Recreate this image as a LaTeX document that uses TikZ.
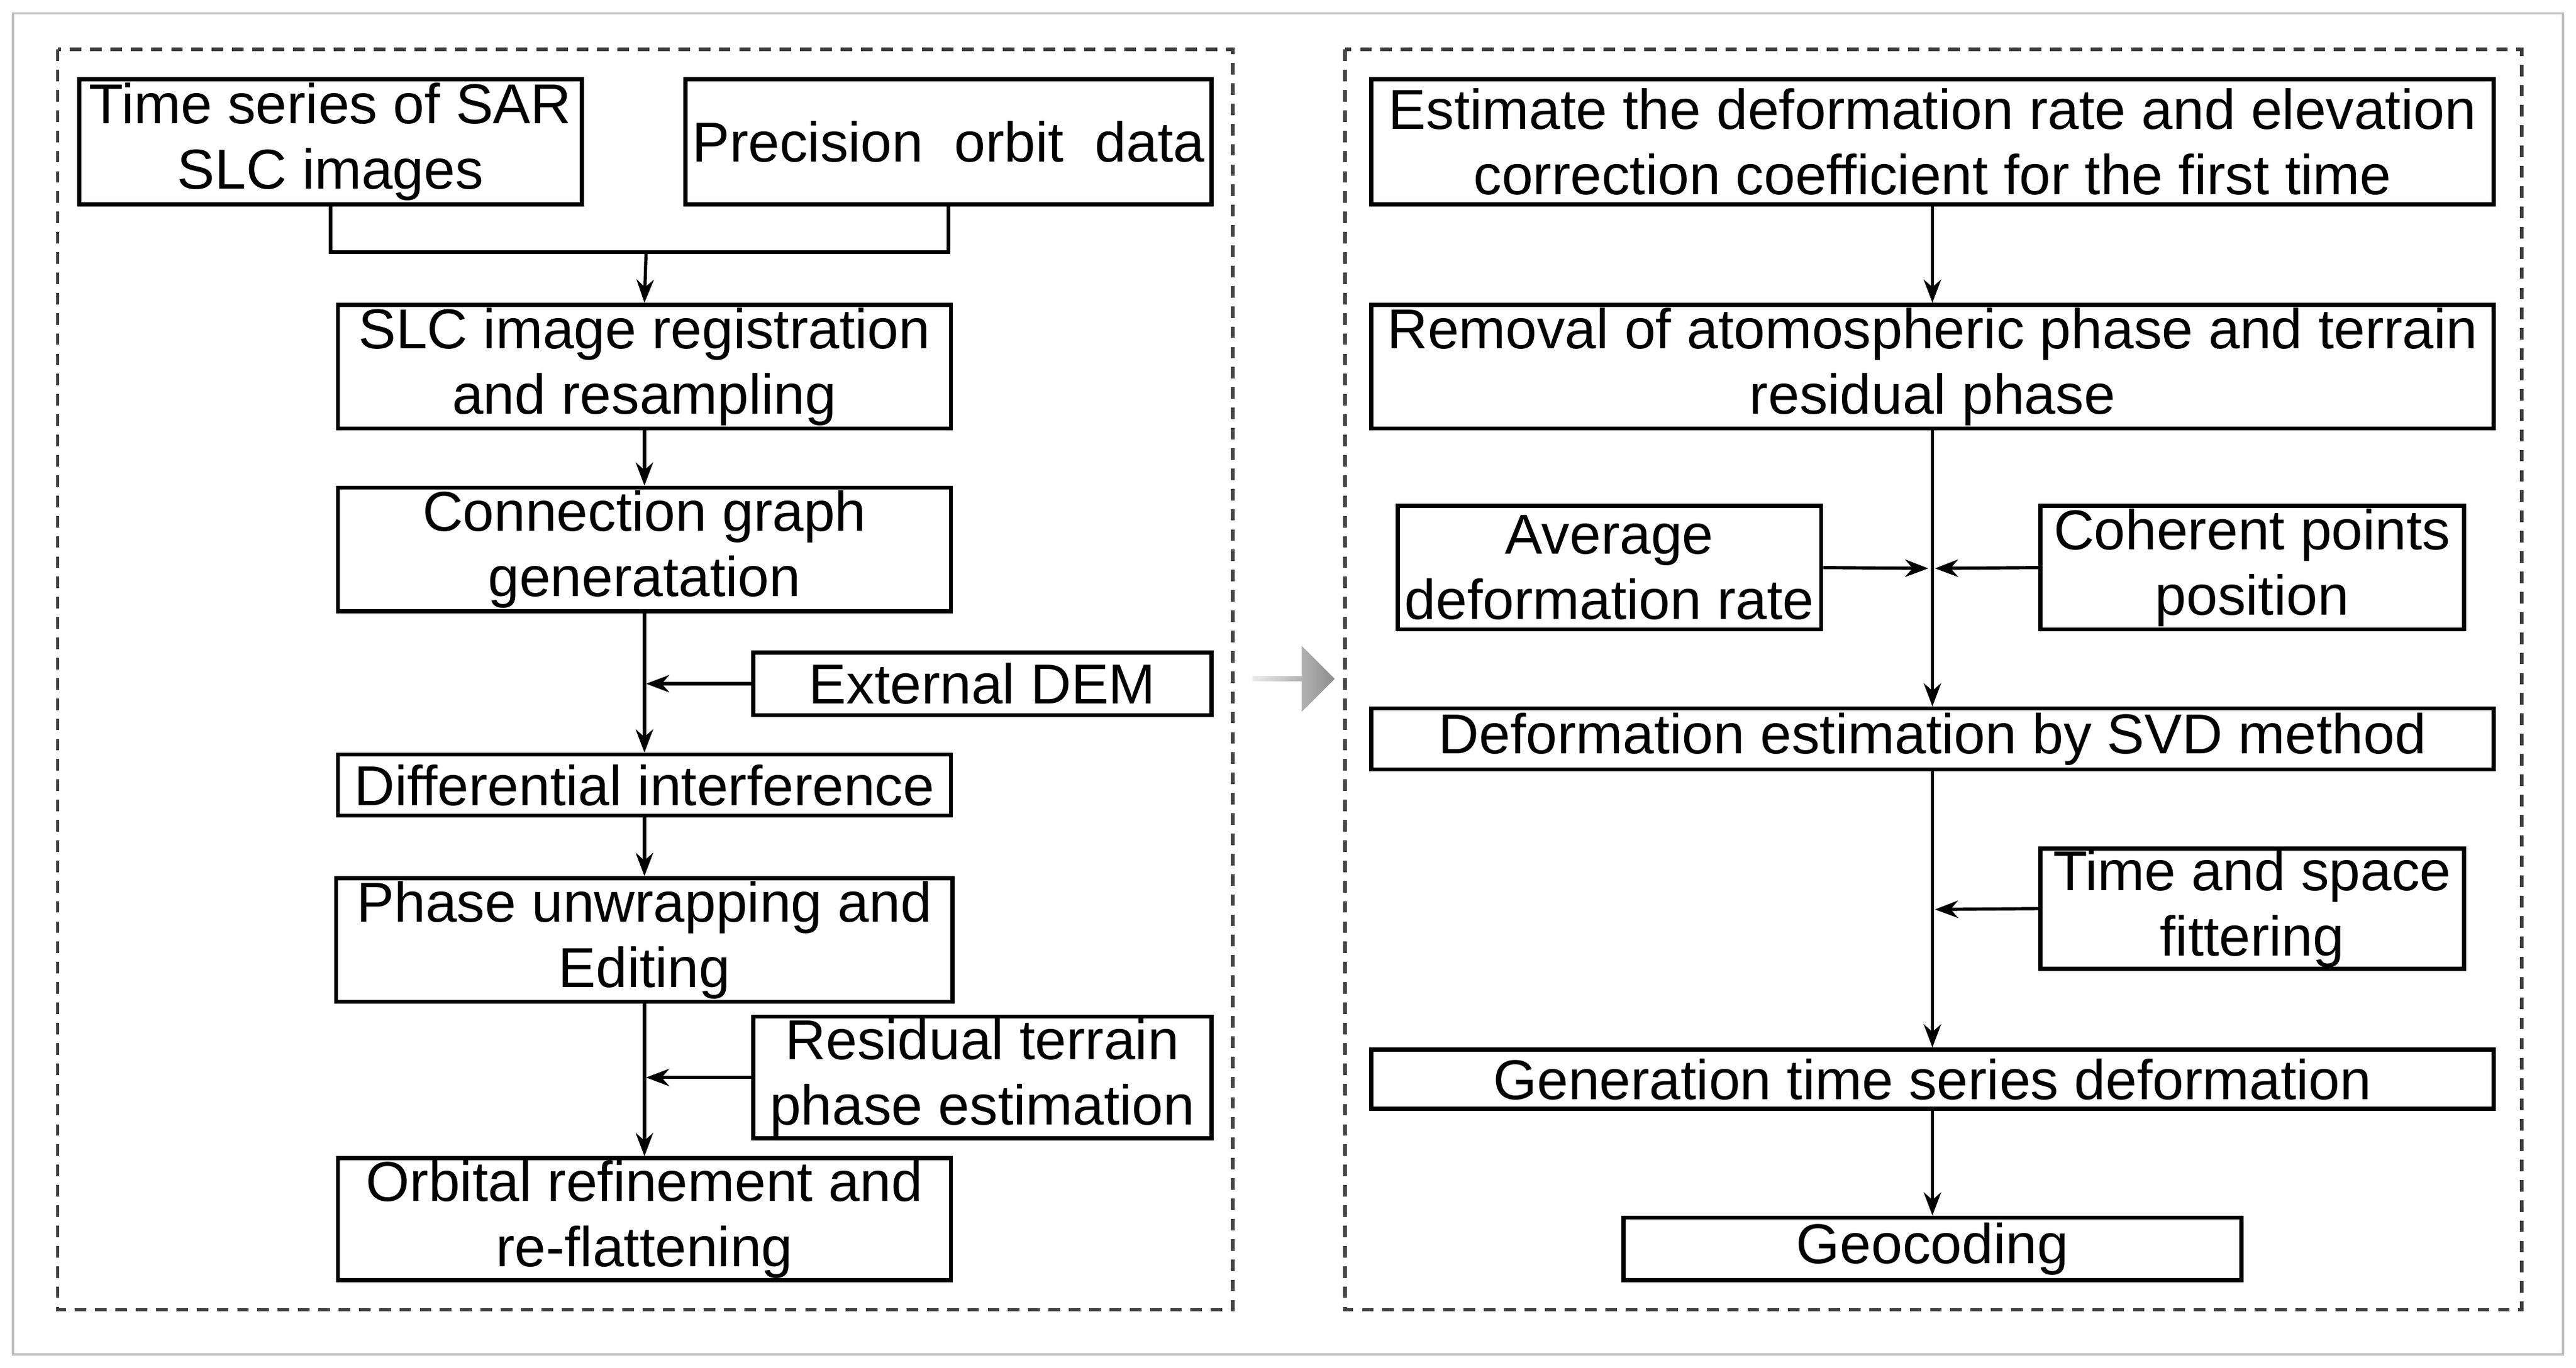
\documentclass[tikz,border=0pt]{standalone}
\usepackage{fontspec}
\setmainfont{Liberation Sans}
\usetikzlibrary{fit,arrows.meta,shapes.arrows}
\begin{document}
\begin{tikzpicture}[x=0.01cm,y=-0.01cm,
  box/.style={draw,line width=0.7pt,inner sep=0pt},
  txt/.style={align=center,inner sep=0pt,font=\fontsize{9.7pt}{11.3pt}\selectfont},
  arr/.style={-{Stealth[length=4pt,width=3pt]},line width=0.55pt},
  dbox/.style={draw=black!75,line width=0.6pt,dash pattern=on 2pt off 1.5pt}]
\useasboundingbox (0,0) rectangle (1563,830);
\draw[black!25,line width=0.4pt] (8,8) rectangle (1555,822);
\draw[dbox] (35,30) rectangle (748,795);
\draw[dbox] (816,30) rectangle (1530,795);
% left
\node[box,fit={(48,48)(353,124)}] (ts) {};
\node[txt] at (ts.center) {Time series of SAR\\SLC images};
\node[box,fit={(416,48)(735,124)}] (po) {};
\node[txt] at (po.center) {Precision\ \ orbit\ \ data};
\node[box,fit={(205,185)(577,260)}] (reg) {};
\node[txt] at (reg.center) {SLC image registration\\and resampling};
\node[box,fit={(205,296)(577,371)}] (cg) {};
\node[txt] at (cg.center) {Connection graph\\generatation};
\node[box,fit={(457,396)(735,434)}] (dem) {};
\node[txt] at (dem.center) {External DEM};
\node[box,fit={(205,458)(577,495)}] (di) {};
\node[txt] at (di.center) {Differential interference};
\node[box,fit={(204,533)(578,608)}] (pu) {};
\node[txt] at (pu.center) {Phase unwrapping and\\Editing};
\node[box,fit={(457,617)(735,691)}] (rt) {};
\node[txt] at (rt.center) {Residual terrain\\phase estimation};
\node[box,fit={(205,703)(577,777)}] (or) {};
\node[txt] at (or.center) {Orbital refinement and\\re-flattening};
\coordinate (j) at (392,153);
\draw[line width=0.7pt] (ts.south) |- (j) -| (po.south);
\draw[arr] (j) -- (reg.north);
\draw[arr] (reg) -- (cg);
\draw[arr] (cg) -- (di);
\coordinate (jd) at (392,415);
\draw[arr] (dem.west) -- (jd);
\draw[arr] (di) -- (pu);
\draw[arr] (pu) -- (or);
\coordinate (jr) at (392,654);
\draw[arr] (rt.west) -- (jr);
% middle arrow
\node[single arrow,draw=none,minimum height=0.5cm,minimum width=0.4cm,single arrow head extend=0.08cm,inner sep=0pt,left color=black!8,right color=black!45] (ga) at (784,412) {};
% right
\node[box,fit={(832,48)(1513,124)}] (est) {};
\node[txt] at (est.center) {Estimate the deformation rate and elevation\\correction coefficient for the first time};
\node[box,fit={(832,185)(1513,260)}] (rem) {};
\node[txt] at (rem.center) {Removal of atomospheric phase and terrain\\residual phase};
\node[box,fit={(848,307)(1105,382)}] (avg) {};
\node[txt] at (avg.center) {Average\\deformation rate};
\node[box,fit={(1238,307)(1495,382)}] (coh) {};
\node[txt] at (coh.center) {Coherent points\\position};
\node[box,fit={(832,430)(1513,467)}] (svd) {};
\node[txt] at (svd.center) {Deformation estimation by SVD method};
\node[box,fit={(1238,515)(1495,588)}] (tsf) {};
\node[txt] at (tsf.center) {Time and space\\fittering};
\node[box,fit={(832,637)(1513,673)}] (gen) {};
\node[txt] at (gen.center) {Generation time series deformation};
\node[box,fit={(985,739)(1360,777)}] (geo) {};
\node[txt] at (geo.center) {Geocoding};
\coordinate (ja) at (1170,345);
\coordinate (jc) at (1174,345);
\coordinate (jt) at (1174,552);
\draw[arr] (est.south) -- (rem.north);
\draw[arr] (rem.south) -- (svd.north);
\draw[arr] (avg.east) -- (ja);
\draw[arr] (coh.west) -- (jc);
\draw[arr] (svd.south) -- (gen.north);
\draw[arr] (tsf.west) -- (jt);
\draw[arr] (gen.south) -- (geo.north);
\end{tikzpicture}
\end{document}
